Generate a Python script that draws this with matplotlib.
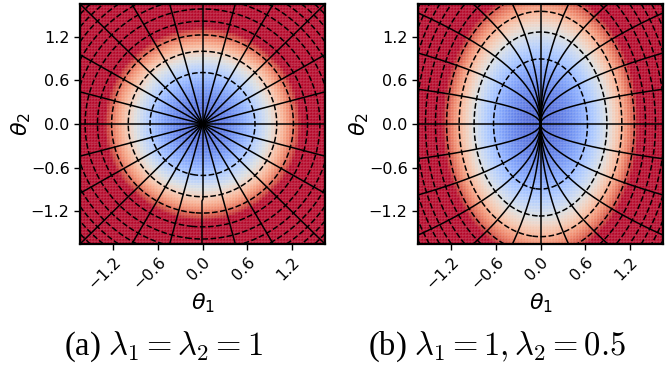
import numpy as np
import matplotlib
matplotlib.use("Agg")
import matplotlib.pyplot as plt

# ---- chart parameters ----
lambda1_values = [1.0, 1.0]
lambda2_values = [1.0, 0.5]
captions = [r"(a) $\lambda_1=\lambda_2=1$", r"(b) $\lambda_1=1, \lambda_2=0.5$"]
tick_values = [-1.2, -0.6, 0.0, 0.6, 1.2]
tick_labels = ["\u22121.2", "\u22120.6", "0.0", "0.6", "1.2"]
contour_steps = [0.5, 0.4]
start_angles_deg = list(range(0, 360, 15))
start_radius = 2.0
axis_limit = 1.65
color_min = -0.1
color_max = 1.75
n_cells = 82

fig = plt.figure(figsize=(6.66, 3.69), dpi=100)
axes_rects = [
    [80 / 666, (369 - 244) / 369, 245 / 666, 240 / 369],
    [418 / 666, (369 - 244) / 369, 245 / 666, 240 / 369],
]
caption_x = [163 / 666, 497 / 666]

edges = np.linspace(-axis_limit, axis_limit, n_cells + 1)
centers = 0.5 * (edges[:-1] + edges[1:])
fine = np.linspace(-axis_limit, axis_limit, 300)

for i in range(2):
    l1, l2 = lambda1_values[i], lambda2_values[i]
    ax = fig.add_axes(axes_rects[i])
    X, Y = np.meshgrid(centers, centers)
    Z = l1 * X ** 2 + l2 * Y ** 2
    ax.pcolormesh(edges, edges, Z, cmap="coolwarm", vmin=color_min, vmax=color_max,
                  edgecolors=(1, 1, 1, 0.07), linewidth=0.25, shading="flat")
    XF, YF = np.meshgrid(fine, fine)
    ZF = l1 * XF ** 2 + l2 * YF ** 2
    step = contour_steps[i]
    levels = np.arange(step, ZF.max(), step)
    ax.contour(XF, YF, ZF, levels=levels, colors="black", linestyles="--",
               linewidths=1.1)
    t = np.linspace(-3, 14, 800)
    for a in start_angles_deg:
        phi = np.deg2rad(a)
        x0 = start_radius * np.cos(phi)
        y0 = start_radius * np.sin(phi)
        ax.plot(x0 * np.exp(-l1 * t), y0 * np.exp(-l2 * t), color="black", lw=1.1)
    ax.set_xlim(-axis_limit, axis_limit)
    ax.set_ylim(-axis_limit, axis_limit)
    ax.set_xticks(tick_values)
    ax.set_xticklabels(tick_labels, rotation=45, ha="right", rotation_mode="anchor")
    ax.set_yticks(tick_values)
    ax.set_yticklabels(tick_labels)
    ax.tick_params(direction="out", length=4, width=1, labelsize=11.5)
    for s in ax.spines.values():
        s.set_linewidth(1.6)
    ax.set_xlabel(r"$\theta_1$", fontsize=16, labelpad=-1)
    ax.set_ylabel(r"$\theta_2$", fontsize=16, labelpad=-2)
    fig.text(caption_x[i], 0.06, captions[i], ha="center", va="center",
             fontsize=23.5, family="Liberation Serif", math_fontfamily="cm")

fig.savefig("out.png", dpi=100)
